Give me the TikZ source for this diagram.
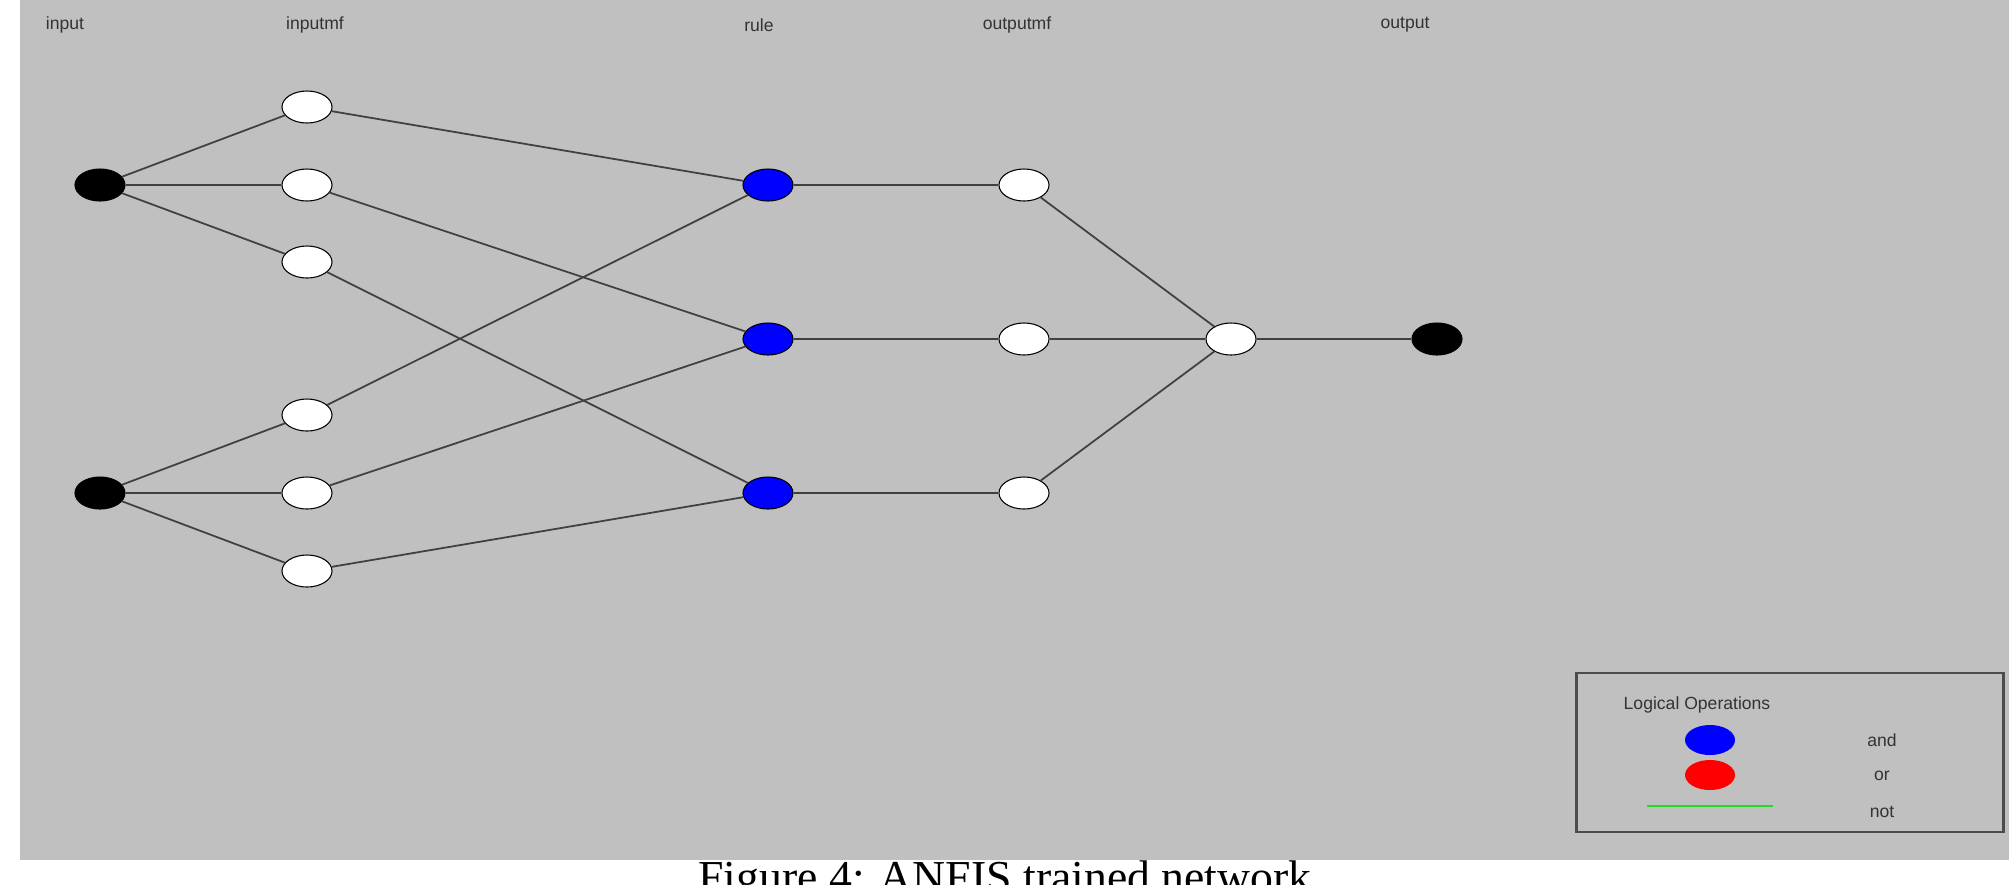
\documentclass[tikz,border=0pt]{standalone}
\usepackage{fontspec}
\setmainfont{Liberation Serif}
\setsansfont{Liberation Sans}
\usetikzlibrary{shapes.geometric}
\begin{document}
\begin{tikzpicture}[x=0.01cm,y=-0.01cm,
  nd/.style={ellipse,draw=black,line width=0.3pt,minimum width=0.5cm,minimum height=0.32cm,inner sep=0pt},
  wn/.style={nd,fill=white},
  bn/.style={nd,fill=black},
  an/.style={nd,fill=blue},
  lbl/.style={font=\sffamily\fontsize{5}{6}\selectfont,text=black!80},
  ed/.style={draw=black!75,line width=0.5pt}]
\useasboundingbox (0,0) rectangle (2009,884);
\fill[white] (0,0) rectangle (2009,884);
\fill[gray!50!white,fill={rgb,255:red,192;green,192;blue,192}] (20,0) rectangle (2009,860);
\node[lbl] (l1) at (65,25) {input};
\node[lbl] (l2) at (315,25) {inputmf};
\node[lbl] (l3) at (759,25) {rule};
\node[lbl] (l4) at (1017,25) {outputmf};
\node[lbl] (l5) at (1405,25) {output};
\node[bn] (i1) at (100,185) {};
\node[bn] (i2) at (100,493) {};
\node[wn] (m1) at (307,107) {};
\node[wn] (m2) at (307,185) {};
\node[wn] (m3) at (307,262) {};
\node[wn] (m4) at (307,415) {};
\node[wn] (m5) at (307,493) {};
\node[wn] (m6) at (307,571) {};
\node[an] (r1) at (768,185) {};
\node[an] (r2) at (768,339) {};
\node[an] (r3) at (768,493) {};
\node[wn] (o1) at (1024,185) {};
\node[wn] (o2) at (1024,339) {};
\node[wn] (o3) at (1024,493) {};
\node[wn] (s) at (1231,339) {};
\node[bn] (out) at (1437,339) {};
\foreach \a/\b in {i1/m1,i1/m2,i1/m3,i2/m4,i2/m5,i2/m6,m1/r1,m2/r2,m3/r3,m4/r1,m5/r2,m6/r3,r1/o1,r2/o2,r3/o3,o1/s,o2/s,o3/s,s/out}
  \draw[ed] (\a) -- (\b);
\node[draw=black!70,line width=0.8pt,minimum width=4.26cm,minimum height=1.59cm,inner sep=0pt] (lg) at (1790,752.5) {};
\node[lbl] (lt) at (1697,705) {Logical Operations};
\node[an,minimum width=0.5cm,minimum height=0.3cm,draw=none] (la) at (1710,740) {};
\node[nd,fill=red,draw=none,minimum width=0.5cm,minimum height=0.3cm] (lo) at (1710,775) {};
\coordinate (g1) at (1647,806);
\coordinate (g2) at (1773,806);
\draw[green!70!gray,line width=0.8pt] (g1) -- (g2);
\node[lbl] (ta) at (1882,740) {and};
\node[lbl] (to) at (1882,776) {or};
\node[lbl] (tn) at (1882,812) {not};
\node[anchor=base,font=\fontsize{13}{15}\selectfont] (cap) at (1005,892) {Figure 4: ANFIS trained network};
\end{tikzpicture}
\end{document}
